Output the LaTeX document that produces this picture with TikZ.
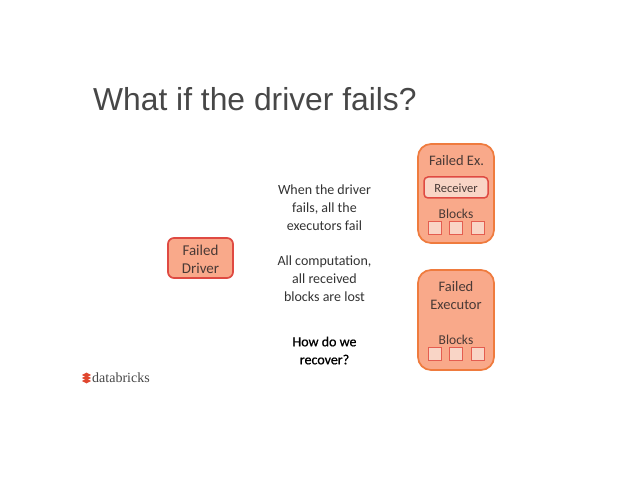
\documentclass[tikz,border=0pt]{standalone}
\usepackage{fontspec}
\setmainfont{Carlito}
\newfontfamily\titlefont{Liberation Sans}
\newfontfamily\logofont{Liberation Serif}
\newfontfamily\semifont[FakeBold=0.7]{Carlito}
\definecolor{fillor}{HTML}{F9A98A}
\definecolor{edgeor}{HTML}{EF7B3E}
\definecolor{edgered}{HTML}{DF4A42}
\definecolor{palefill}{HTML}{F9D5C6}
\definecolor{inktext}{HTML}{4A3A36}
\definecolor{logored}{HTML}{E0462E}
\tikzset{x=1pt,y=-1pt,
  panel/.style={draw=edgeor,fill=fillor,line width=1.7pt,rounded corners=13pt},
  driverbox/.style={draw=edgered,fill=fillor,line width=1.7pt,rounded corners=6pt},
  recvbox/.style={draw=edgered,fill=palefill,line width=1.5pt,rounded corners=4pt},
  blockbox/.style={draw=edgered!80!fillor,fill=palefill,line width=1pt,minimum size=13pt,inner sep=0pt},
  label/.style={text=inktext,font=\fontsize{14.5}{18}\selectfont,align=center,inner sep=0pt},
  body/.style={text=black!80,font=\fontsize{14}{18}\selectfont,align=center,inner sep=0pt}}
\begin{document}
\begin{tikzpicture}
\useasboundingbox (0,0) rectangle (638,478);
\fill[white] (0,0) rectangle (638,478);
\node[anchor=west,inner sep=0pt,text=black!72,font=\titlefont\fontsize{31.8}{36}\selectfont] (title) at (93,99) {What if the driver fails?};
\node[panel,minimum width=76pt,minimum height=99pt] (ex1) at (456,193.5) {};
\node[panel,minimum width=76pt,minimum height=100pt] (ex2) at (456,320) {};
\node[driverbox,minimum width=65pt,minimum height=40pt] (drv) at (200.5,258) {};
\node[recvbox,minimum width=64pt,minimum height=21pt] (recv) at (456,187.5) {};
\node[label] (t1) at (456.5,161) {Failed Ex.};
\node[label,font=\fontsize{12.5}{15}\selectfont] (t2) at (456,188.5) {Receiver};
\node[label,font=\fontsize{13.5}{16}\selectfont] (t3) at (456,213.5) {Blocks};
\node[blockbox] (a1) at (435,228) {};
\node[blockbox] (a2) at (456,228) {};
\node[blockbox] (a3) at (477.5,228) {};
\node[label] (t4) at (456,296) {Failed\\Executor};
\node[label,font=\fontsize{13.5}{16}\selectfont] (t5) at (456,339.5) {Blocks};
\node[blockbox] (b1) at (435,354) {};
\node[blockbox] (b2) at (456,354) {};
\node[blockbox] (b3) at (477.5,354) {};
\node[label,font=\fontsize{15}{18}\selectfont] (t6) at (200.5,259.5) {Failed\\Driver};
\node[body] (m1) at (324.5,208) {When the driver\\fails, all the\\executors fail};
\node[body] (m2) at (324.5,278.5) {All computation,\\all received\\blocks are lost};
\node[body,text=black,font=\semifont\fontsize{14}{18}\selectfont] (m3) at (324.5,350.5) {How do we\\recover?};
% logo
\fill[logored] (82,381) -- (86.5,378.6) -- (91,381) -- (86.5,383.4) -- cycle;
\fill[logored] (82,378) -- (86.5,375.6) -- (91,378) -- (86.5,380.4) -- cycle;
\fill[logored] (82,375) -- (86.5,372.6) -- (91,375) -- (86.5,377.4) -- cycle;
\node[anchor=west,inner sep=0pt,text=black!72,font=\logofont\fontsize{14}{14}\selectfont] (logo) at (92,377.5) {databricks};
\end{tikzpicture}
\end{document}
